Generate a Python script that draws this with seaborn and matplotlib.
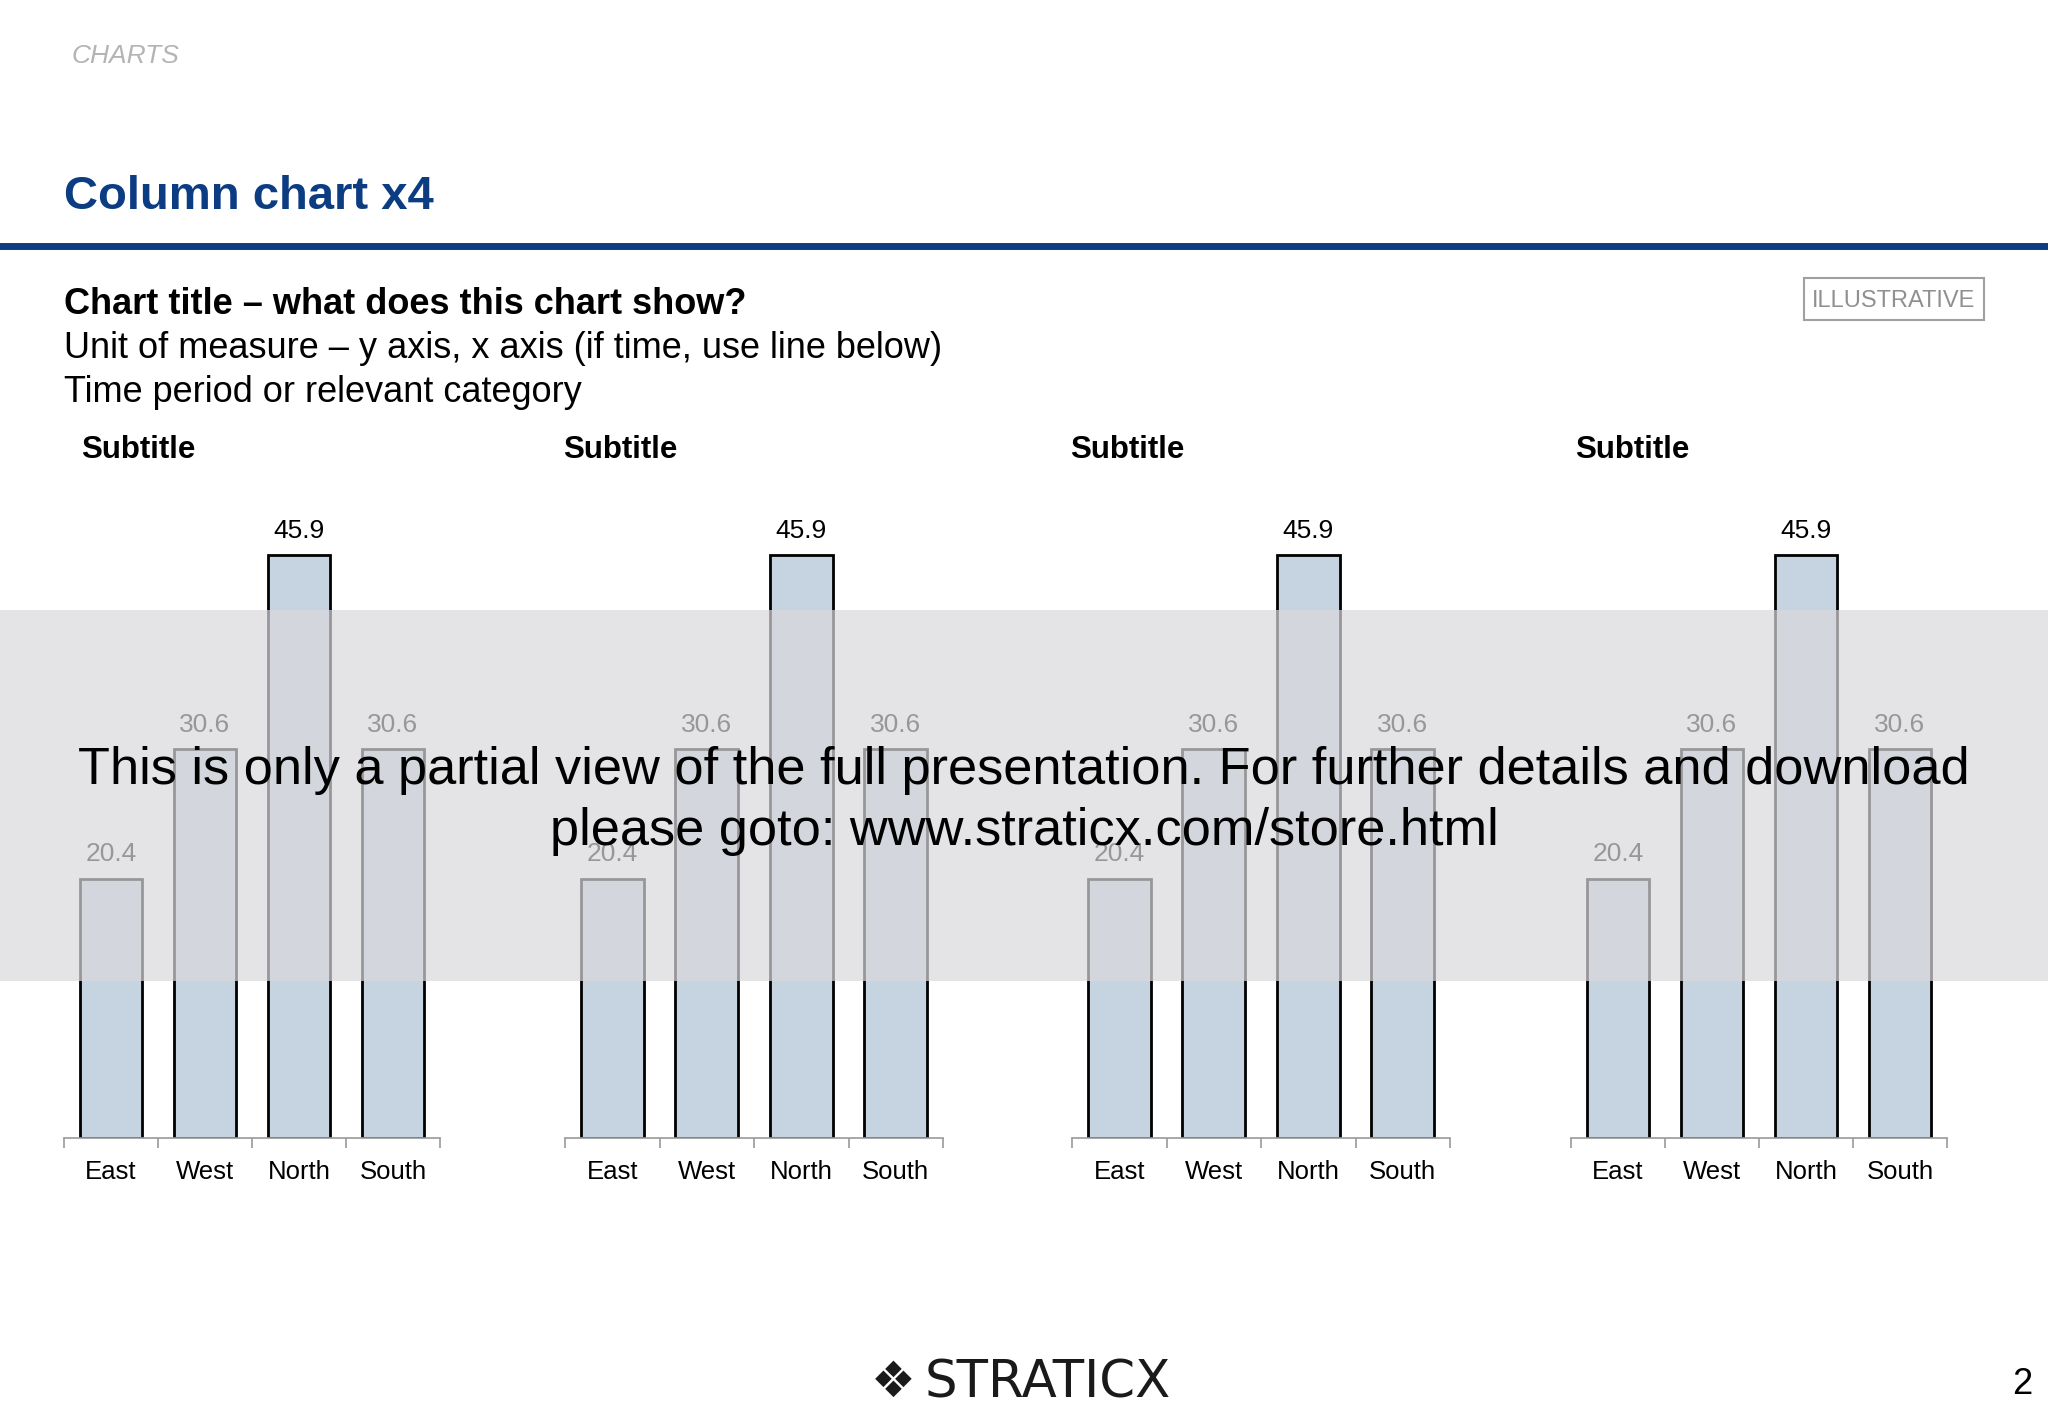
import matplotlib
matplotlib.use("Agg")
import matplotlib.pyplot as plt
from matplotlib.patches import Rectangle
from matplotlib.lines import Line2D
from matplotlib.ticker import FixedLocator
import seaborn as sns

# Dados dos quatro gráficos
regioes = ["East", "West", "North", "South"]
valores_1 = [20.4, 30.6, 45.9, 30.6]
valores_2 = [20.4, 30.6, 45.9, 30.6]
valores_3 = [20.4, 30.6, 45.9, 30.6]
valores_4 = [20.4, 30.6, 45.9, 30.6]
subtitulos = ["Subtitle", "Subtitle", "Subtitle", "Subtitle"]

W, H = 2048, 1418
AZUL = "#0c3c82"
COR_BARRA = "#c6d4e1"

sns.set_theme(style="white")
plt.rcParams["font.family"] = ["Liberation Sans", "DejaVu Sans"]

fig = plt.figure(figsize=(W / 100, H / 100), dpi=100)
fig.patch.set_facecolor("white")


def fx(px):
    return px / W


def fy(py):
    return 1 - py / H


# Cabeçalho
fig.text(fx(72), fy(56), "CHARTS", style="italic", color="#b4b4b4", fontsize=19, va="center")
fig.text(fx(64), fy(197), "Column chart x4", color=AZUL, fontsize=34, fontweight="bold", va="center")
fig.add_artist(Line2D([0, 1], [fy(245.5), fy(245.5)], color=AZUL, lw=5, transform=fig.transFigure))

fig.text(fx(64), fy(305), "Chart title \u2013 what does this chart show?", fontsize=26,
         fontweight="bold", color="black", va="center")
fig.text(fx(64), fy(349), "Unit of measure \u2013 y axis, x axis (if time, use line below)",
         fontsize=26, color="black", va="center")
fig.text(fx(64), fy(393), "Time period or relevant category", fontsize=26, color="black", va="center")

# Caixa "ILLUSTRATIVE"
fig.add_artist(Rectangle((fx(1804), fy(320)), fx(180), 42 / H, transform=fig.transFigure,
                         facecolor="white", edgecolor="#a0a0a0", lw=1.5))
fig.text(fx(1894), fy(301), "ILLUSTRATIVE", fontsize=17, color="#909090", ha="center", va="center")

# Posições dos gráficos (esquerda, direita em px) e dos subtítulos
eixos_x = [(64, 440), (565, 943), (1072, 1450), (1571, 1947)]
sub_x = [81, 563, 1070, 1575]
todos_valores = [valores_1, valores_2, valores_3, valores_4]

base_y = 1137.5
altura = 634.5

for (x0, x1), sx, vals, sub in zip(eixos_x, sub_x, todos_valores, subtitulos):
    ax = fig.add_axes([fx(x0), fy(base_y), (x1 - x0) / W, altura / H])
    sns.barplot(x=regioes, y=vals, color=COR_BARRA, saturation=1, edgecolor="black",
                linewidth=2, width=0.667, ax=ax)
    ax.set_xlim(-0.5, 3.5)
    ax.set_ylim(0, 50)
    ax.bar_label(ax.containers[0], fmt="%.1f", padding=9, fontsize=19, color="black")
    sns.despine(ax=ax, left=True)
    ax.spines["bottom"].set_color("#9a9a9a")
    ax.spines["bottom"].set_linewidth(1.2)
    ax.set_yticks([])
    ax.set_ylabel("")
    ax.set_xlabel("")
    ax.patch.set_alpha(0)
    ax.xaxis.set_minor_locator(FixedLocator([-0.5, 0.5, 1.5, 2.5, 3.5]))
    ax.tick_params(axis="x", which="major", length=0, pad=16, labelsize=18.5, labelcolor="black")
    ax.tick_params(axis="x", which="minor", bottom=True, length=7, width=1.2, color="#9a9a9a")
    fig.text(fx(sx), fy(450), sub, fontsize=22.5, fontweight="bold", color="black", va="center")

# Rodapé
fig.text(fx(893), fy(1383), "\u2756", family="DejaVu Sans", fontsize=36, color="#1a1a1a",
         ha="center", va="center")
fig.text(fx(925), fy(1383), "STRATICX", family="DejaVu Sans", fontsize=37, color="#1a1a1a",
         ha="left", va="center")
fig.text(fx(2022), fy(1384), "2", fontsize=26, color="black", ha="center", va="center")

# Faixa de aviso semitransparente
fig.add_artist(Rectangle((0, fy(981)), 1, (981 - 610) / H, transform=fig.transFigure,
                         facecolor=(217 / 255, 217 / 255, 220 / 255), alpha=0.7,
                         edgecolor="none", zorder=10))
fig.text(fx(1024), fy(770),
         "This is only a partial view of the full presentation. For further details and download",
         fontsize=37.7, color="black", ha="center", va="center", zorder=11)
fig.text(fx(1024), fy(832), "please goto: www.straticx.com/store.html",
         fontsize=37.7, color="black", ha="center", va="center", zorder=11)

fig.savefig("out.png", dpi=100)
